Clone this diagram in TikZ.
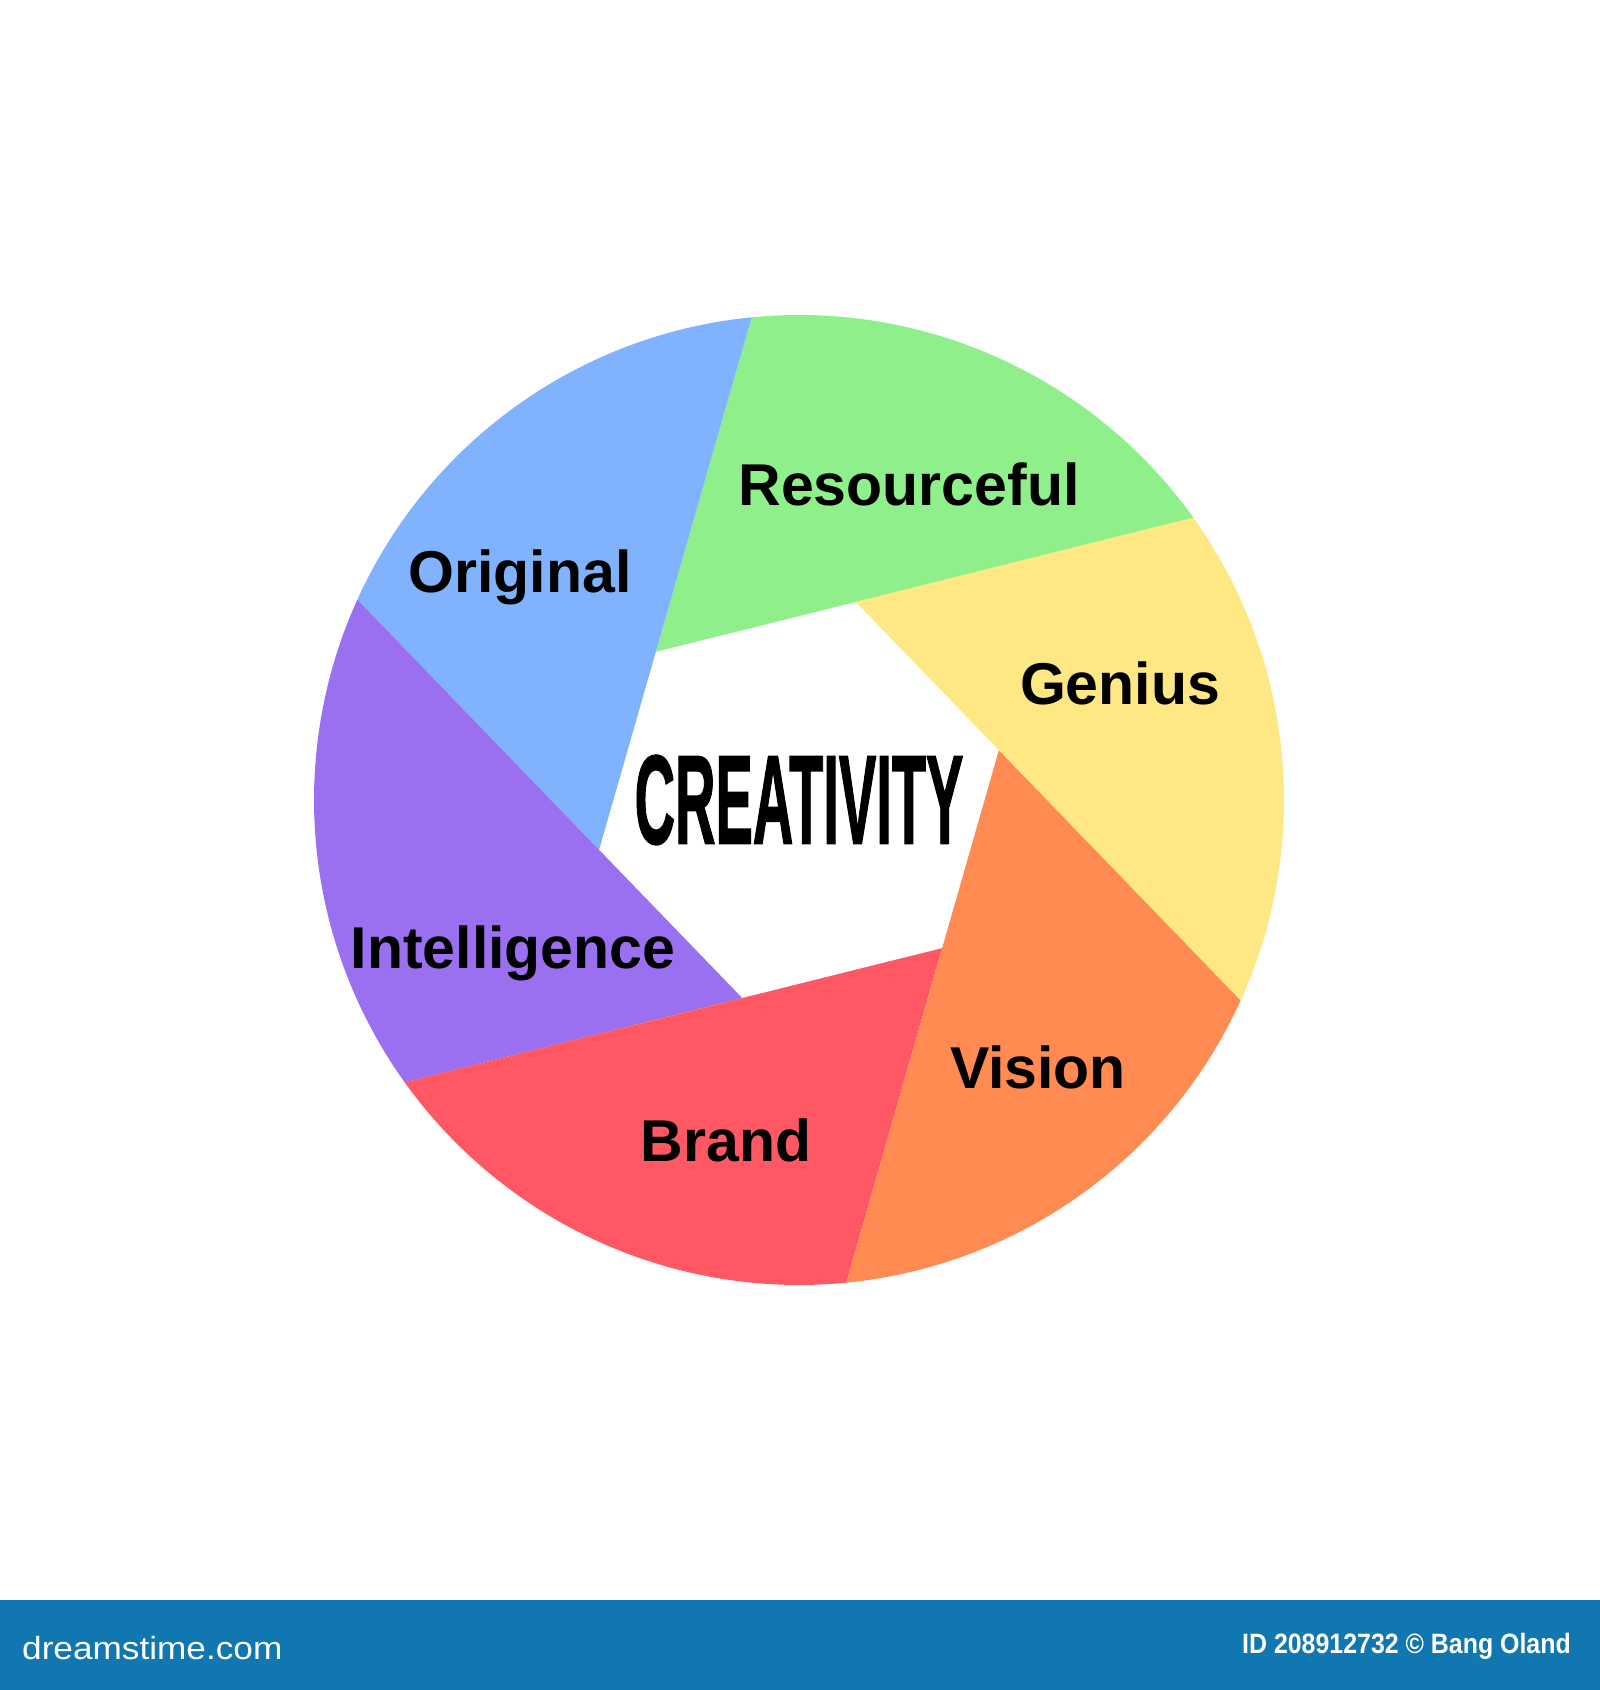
\documentclass[tikz,border=0pt]{standalone}
\usepackage{fontspec}
\setmainfont{Liberation Sans}
\definecolor{cgreen}{RGB}{143,239,139}
\definecolor{cblue}{RGB}{129,178,253}
\definecolor{cpurple}{RGB}{154,112,240}
\definecolor{cred}{RGB}{255,88,100}
\definecolor{corange}{RGB}{255,138,82}
\definecolor{cyellow}{RGB}{255,232,132}
\definecolor{cbar}{RGB}{17,119,176}
\tikzset{
  lbl/.style={font=\bfseries\fontsize{59}{62}\selectfont, text=black, inner sep=0pt},
  barlbl/.style={text=white, inner sep=0pt}
}
\begin{document}
\begin{tikzpicture}[x=1pt,y=1pt]
\useasboundingbox (0,0) rectangle (1600,1690);
\fill[white] (0,0) rectangle (1600,1690);
\begin{scope}[shift={(799,890)}]
  \fill[cgreen]  (35.6:485) arc[start angle=35.6, end angle=95.6, radius=485] -- (134:206) -- cycle;
  \fill[cblue]   (95.6:485) arc[start angle=95.6, end angle=155.6, radius=485] -- (194:206) -- cycle;
  \fill[cpurple] (155.6:485) arc[start angle=155.6, end angle=215.6, radius=485] -- (254:206) -- cycle;
  \fill[cred]    (215.6:485) arc[start angle=215.6, end angle=275.6, radius=485] -- (314:206) -- cycle;
  \fill[corange] (275.6:485) arc[start angle=275.6, end angle=335.6, radius=485] -- (374:206) -- cycle;
  \fill[cyellow] (335.6:485) arc[start angle=335.6, end angle=395.6, radius=485] -- (434:206) -- cycle;
\end{scope}
\node[lbl] (resourceful) at (909,1206) {Resourceful};
\node[lbl] (original) at (520,1113) {Original};
\node[lbl] (genius) at (1120,1007) {Genius};
\node[lbl] (intelligence) at (513,737) {Intelligence};
\node[lbl] (vision) at (1038,623) {Vision};
\node[lbl] (brand) at (726,550) {Brand};
\node[inner sep=0pt, font=\bfseries\fontsize{80}{80}\selectfont\addfontfeature{FakeBold=1.5}] (creativity) at (799,890) {\scalebox{0.70}[1.58]{CREATIVITY}};
\fill[cbar] (0,0) rectangle (1600,90);
\node[barlbl, anchor=west, font=\fontsize{32}{34}\selectfont] (site) at (22,42) {\scalebox{1.1}[1]{dreamstime.com}};
\node[barlbl, anchor=east, font=\bfseries\fontsize{28}{30}\selectfont] (credit) at (1571,44) {\scalebox{0.89}[1]{ID 208912732 © Bang Oland}};
\end{tikzpicture}
\end{document}
